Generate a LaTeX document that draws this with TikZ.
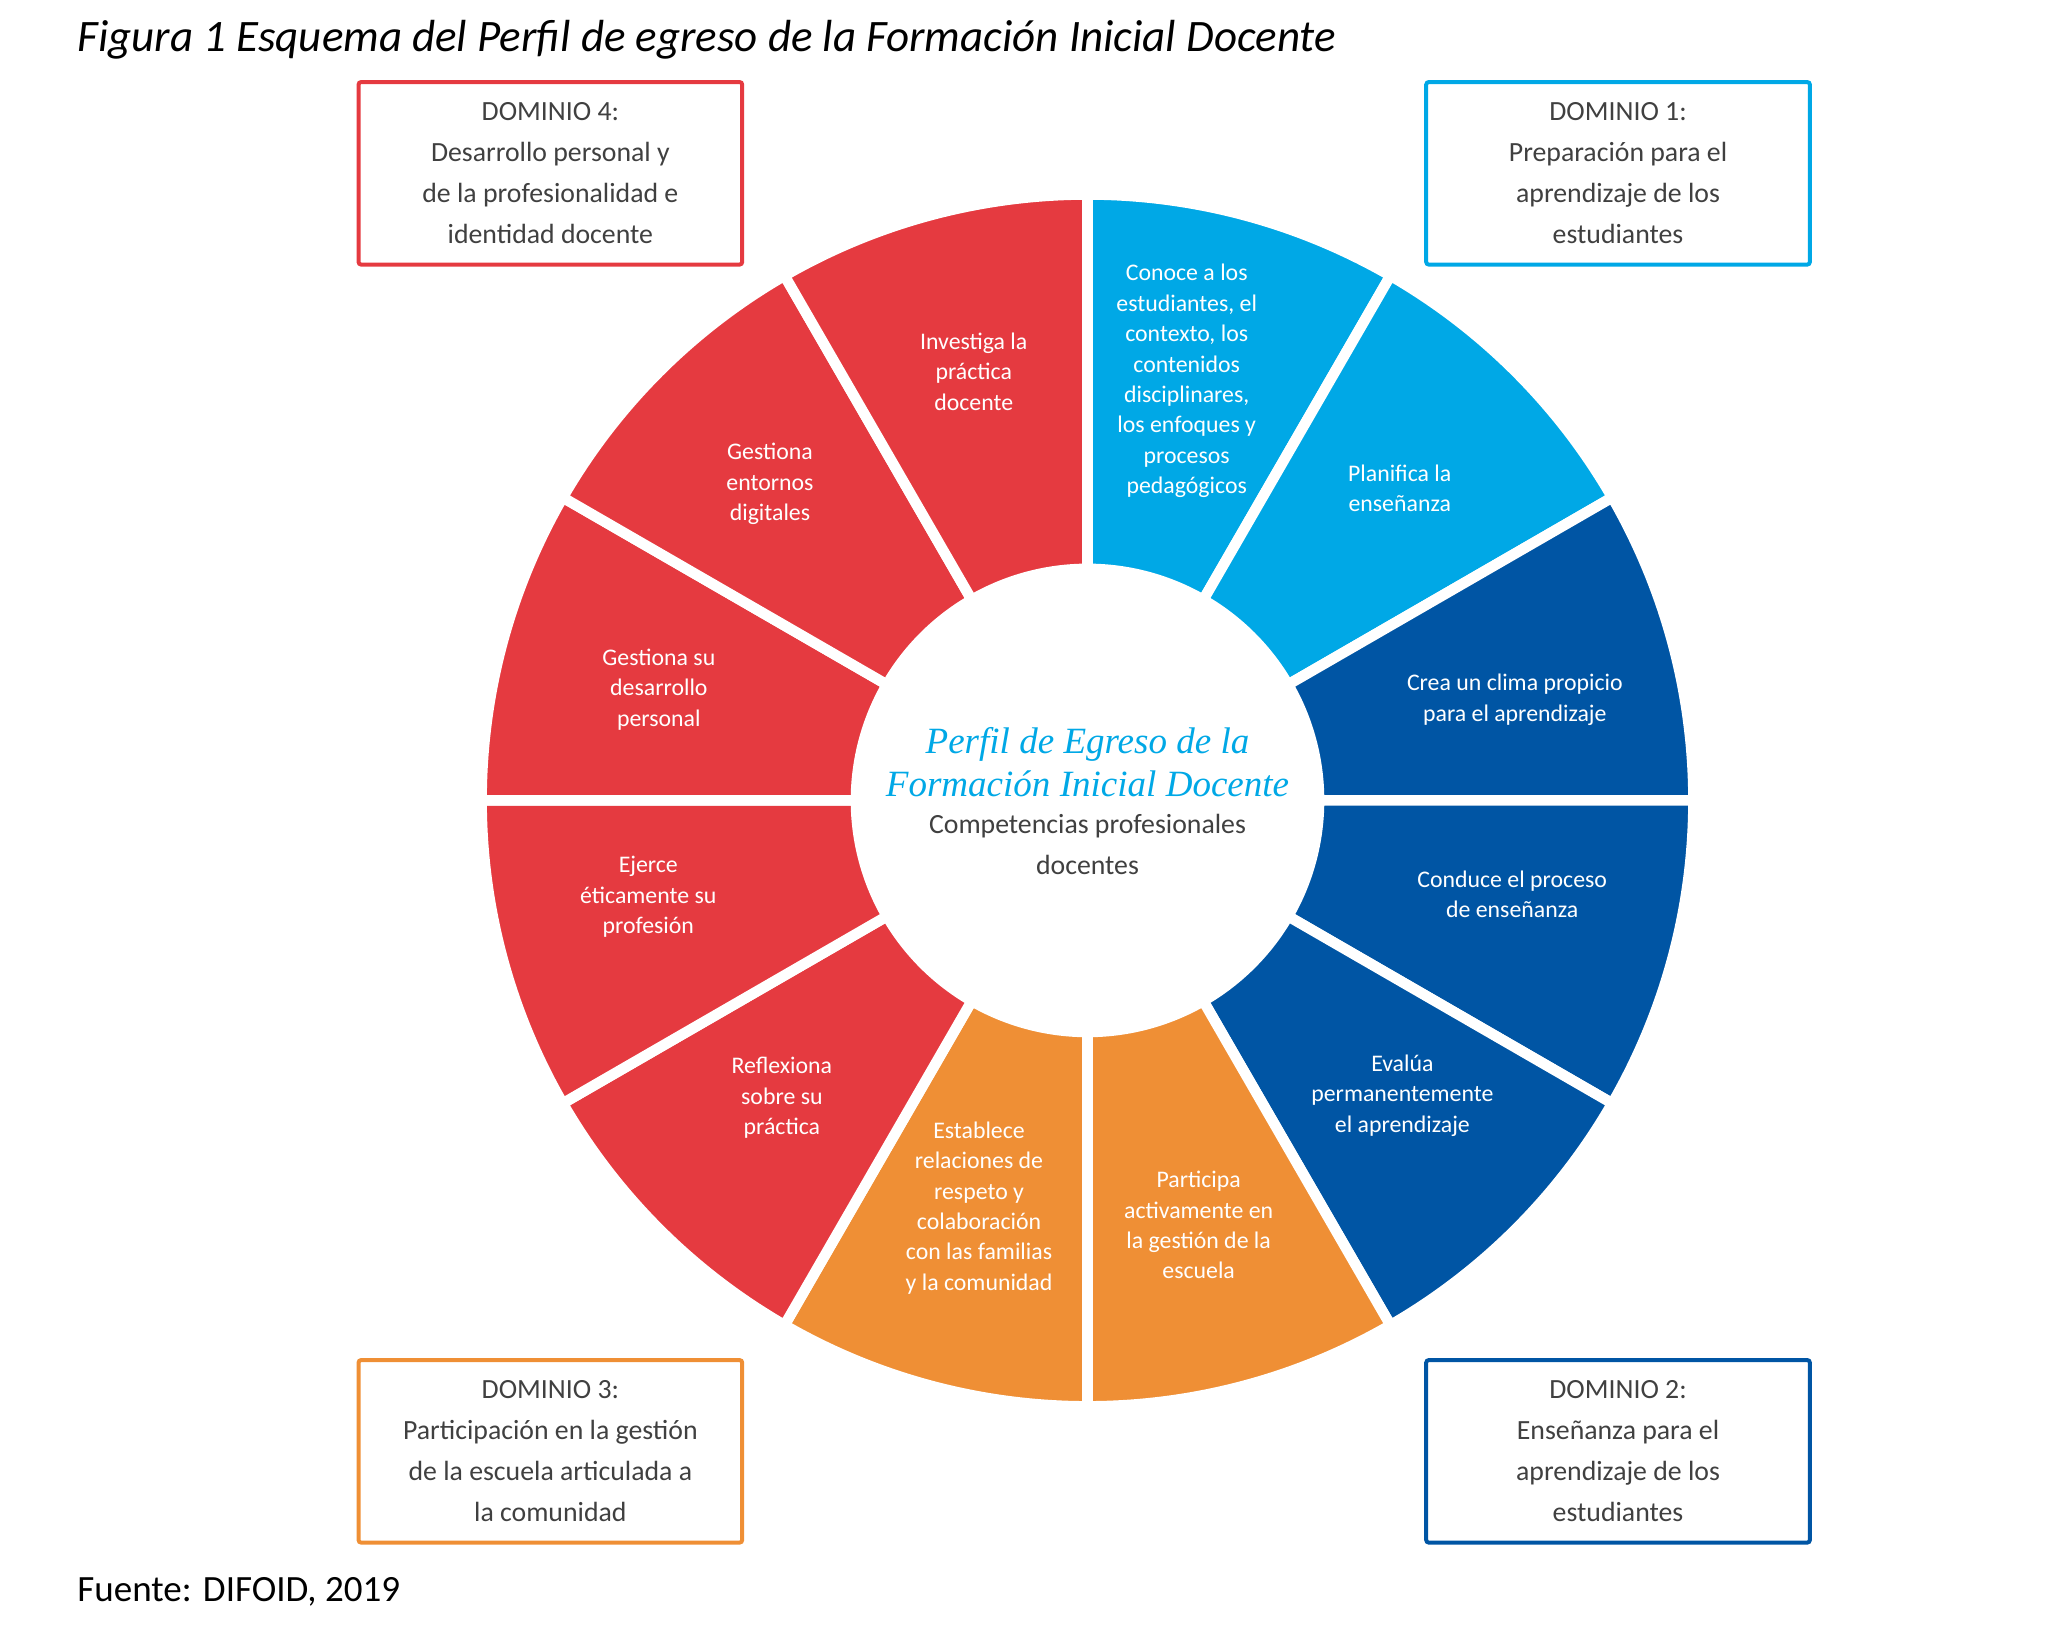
\documentclass[tikz,border=0pt]{standalone}
\usepackage{fontspec}
\setmainfont{Carlito}
\newfontfamily\serifit{Liberation Serif}
\begin{document}
\definecolor{lb}{HTML}{00A8E6}
\definecolor{db}{HTML}{0055A4}
\definecolor{org}{HTML}{EF8F35}
\definecolor{rd}{HTML}{E53A40}
\begin{tikzpicture}[x=1pt,y=-1pt,
 seg/.style={text=white,align=center,font=\fontsize{18}{23}\selectfont},
 dom/.style={draw=#1,line width=3pt,rounded corners=2pt,minimum width=290pt,minimum height=138pt,align=center,font=\fontsize{21}{31}\selectfont,text=black!75}]
\useasboundingbox (0,0) rectangle (1548,1236);
\begin{scope}[shift={(822,605)},yscale=-1]
\foreach \a/\c in {60/lb,30/lb,0/db,-30/db,-60/db,-90/org,-120/org,-150/rd,-180/rd,150/rd,120/rd,90/rd}{
  \pgfmathsetmacro\b{\a+30}
  \fill[\c,draw=white,line width=8pt] (\a:175) -- (\a:458) arc[start angle=\a,end angle=\b,radius=458] -- (\b:175) arc[start angle=\b,end angle=\a,radius=175] -- cycle;
}
\fill[white] (0,0) circle (177);
\end{scope}
\node[anchor=west,font=\fontsize{34}{40}\selectfont\itshape] (title) at (55,30) {Figura 1 Esquema del Perfil de egreso de la Formación Inicial Docente};
\node[anchor=west,font=\fontsize{28}{34}\selectfont] (fuente) at (55,1203) {Fuente: DIFOID, 2019};
\node[align=center,text=lb,font=\fontsize{28}{33}\serifit\itshape] (ct) at (822,576) {Perfil de Egreso de la\\Formación Inicial Docente};
\node[align=center,text=black!75,font=\fontsize{21}{31}\selectfont] (cs) at (822,638) {Competencias profesionales\\docentes};
\node[seg] (s1) at (897,288) {Conoce a los\\estudiantes, el\\contexto, los\\contenidos\\disciplinares,\\los enfoques y\\procesos\\pedagógicos};
\node[seg] (s2) at (1058,369) {Planifica la\\enseñanza};
\node[seg] (s3) at (1145,529) {Crea un clima propicio\\para el aprendizaje};
\node[seg] (s4) at (1143,676) {Conduce el proceso\\de enseñanza};
\node[seg] (s5) at (1060,828) {Evalúa\\permanentemente\\el aprendizaje};
\node[seg] (s6) at (906,926) {Participa\\activamente en\\la gestión de la\\escuela};
\node[seg] (s7) at (740,913) {Establece\\relaciones de\\respeto y\\colaboración\\con las familias\\y la comunidad};
\node[seg] (s8) at (591,830) {Reflexiona\\sobre su\\práctica};
\node[seg] (s9) at (490,678) {Ejerce\\éticamente su\\profesión};
\node[seg] (s10) at (498,521) {Gestiona su\\desarrollo\\personal};
\node[seg] (s11) at (582,366) {Gestiona\\entornos\\digitales};
\node[seg] (s12) at (736,281) {Investiga la\\práctica\\docente};
\node[dom=rd] (d4) at (416,131) {DOMINIO 4:\\Desarrollo personal y\\de la profesionalidad e\\identidad docente};
\node[dom=lb] (d1) at (1223,131) {DOMINIO 1:\\Preparación para el\\aprendizaje de los\\estudiantes};
\node[dom=org] (d3) at (416,1097) {DOMINIO 3:\\Participación en la gestión\\de la escuela articulada a\\la comunidad};
\node[dom=db] (d2) at (1223,1097) {DOMINIO 2:\\Enseñanza para el\\aprendizaje de los\\estudiantes};
\end{tikzpicture}
\end{document}
